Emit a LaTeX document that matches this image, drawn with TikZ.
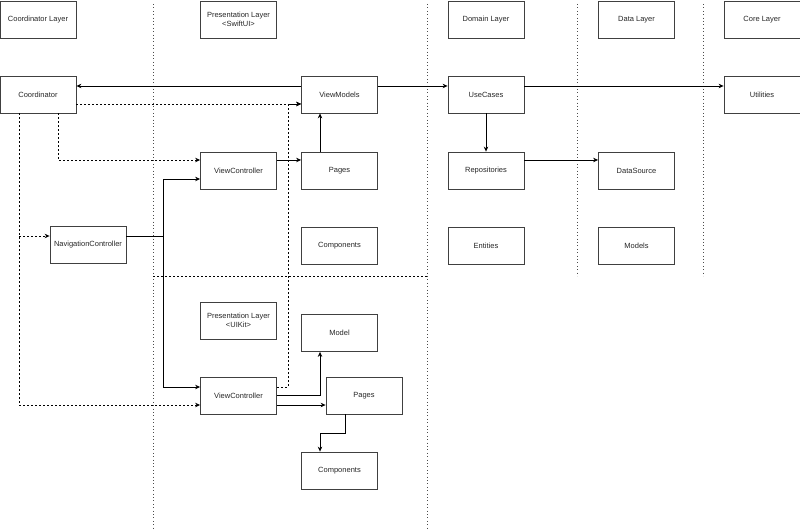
\documentclass[tikz,border=0pt]{standalone}
\usepackage{fontspec}
\setmainfont{Liberation Sans}
\usetikzlibrary{arrows.meta}

\begin{document}
\begin{tikzpicture}[x=1pt, y=-1pt,
		box/.style={draw=black!75, line width=0.8pt, minimum width=76pt, minimum height=37pt,
			inner sep=1pt, align=center, font=\fontsize{7.5}{9}\selectfont, text=black!85},
		link/.style={line width=0.8pt, -{Stealth[length=5pt,width=4.5pt]}},
		dsh/.style={line width=0.7pt, dash pattern=on 2pt off 2pt},
		sep/.style={line width=1pt, black!70, dash pattern=on 0.8pt off 2.6pt}]
		%%%%% START %%%%%
		\useasboundingbox (0,0) rectangle (800,529);
		
		% layer separators
		\draw[sep] (153,4) -- (153,529);
		\draw[sep] (427,4) -- (427,529);
		\draw[sep] (577,4) -- (577,276);
		\draw[sep] (703,4) -- (703,276);
		\draw[dsh] (153,276) -- (427,276);
		
		% layer titles
		\node[box] (coordLayer) at (38,19.5) {Coordinator Layer};
		\node[box] (swiftLayer) at (238.5,19.5) {Presentation Layer\\<SwiftUI>};
		\node[box] (domainLayer) at (486,19.5) {Domain Layer};
		\node[box] (dataLayer) at (636.5,19.5) {Data Layer};
		\node[box] (coreLayer) at (762,19.5) {Core Layer};
		
		\node[box] (coordinator) at (38,94.5) {Coordinator};
		\node[box] (viewModels) at (339.5,94.5) {ViewModels};
		\node[box] (useCases) at (486,94.5) {UseCases};
		\node[box] (utilities) at (762,94.5) {Utilities};
		
		\node[box] (viewCtrl) at (238.5,170.5) {ViewController};
		\node[box] (pages) at (339.5,170.5) {Pages};
		\node[box] (repos) at (486,170.5) {Repositories};
		\node[box] (dataSource) at (636.5,170.5) {DataSource};
		
		\node[box] (navCtrl) at (88,245) {NavigationController};
		\node[box] (components) at (339.5,245.5) {Components};
		\node[box] (entities) at (486,245.5) {Entities};
		\node[box] (models) at (636.5,245.5) {Models};
		
		\node[box] (uikitLayer) at (238.5,320.5) {Presentation Layer\\<UIKit>};
		\node[box] (model) at (339.5,333) {Model};
		\node[box] (viewCtrlUI) at (238.5,395.5) {ViewController};
		\node[box] (pagesUI) at (364,395.5) {Pages};
		\node[box] (componentsUI) at (339.5,470.5) {Components};
		
		% helper points
		\coordinate (coordR) at ([xshift=20pt]coordinator.south);
		\coordinate (coordL) at ([xshift=-19pt]coordinator.south);
		\coordinate (navIn) at ([yshift=9pt]navCtrl.west);
		\coordinate (navOut) at ([yshift=9pt]navCtrl.east);
		\coordinate (bus) at ([xshift=37pt]navOut);
		\coordinate (vmIn) at ([yshift=-9.5pt]viewModels.west);
		
		% solid connectors
		\draw[link] ([yshift=8.5pt]viewModels.west) -- ([yshift=8.5pt]coordinator.east);
		\draw[link] ([yshift=8.5pt]viewModels.east) -- ([yshift=8.5pt]useCases.west);
		\draw[link] ([yshift=8.5pt]useCases.east) -- ([yshift=8.5pt]utilities.west);
		\draw[link] (useCases.south) -- (repos.north);
		\draw[link] ([yshift=10.5pt]repos.east) -- ([yshift=10.5pt]dataSource.west);
		\draw[link] ([yshift=10.5pt]viewCtrl.east) -- ([yshift=10.5pt]pages.west);
		\draw[link] ([xshift=-19.5pt]pages.north) -- ([xshift=-19.5pt]viewModels.south);
		\draw[link] (navOut) -- (bus) |- ([yshift=-8.5pt]viewCtrl.west);
		\draw[link] (bus) |- ([yshift=8.5pt]viewCtrlUI.west);
		\draw[link] (viewCtrlUI.east) -| ([xshift=-19.5pt]model.south);
		\draw[link] ([yshift=-9.5pt]viewCtrlUI.east) -- ([yshift=-9.5pt]pagesUI.west);
		\draw[link] ([xshift=-19pt]pagesUI.south) -- ++(0,19) -| ([xshift=-19.5pt]componentsUI.north);
		
		% dashed connectors
		\draw[link,dsh] ([yshift=-9.5pt]coordinator.east) -- (vmIn);
		\draw[link,dsh] (coordR) |- ([yshift=10.5pt]viewCtrl.west);
		\draw[link,dsh] (coordL) |- ([yshift=-9.5pt]viewCtrlUI.west);
		\draw[link,dsh] (coordL |- navIn) -- (navIn);
		\draw[link,dsh] ([yshift=8.5pt]viewCtrlUI.east) -- ++(11,0) |- (vmIn);
		
		%%%%% END %%%%%
	\end{tikzpicture}
\end{document}
